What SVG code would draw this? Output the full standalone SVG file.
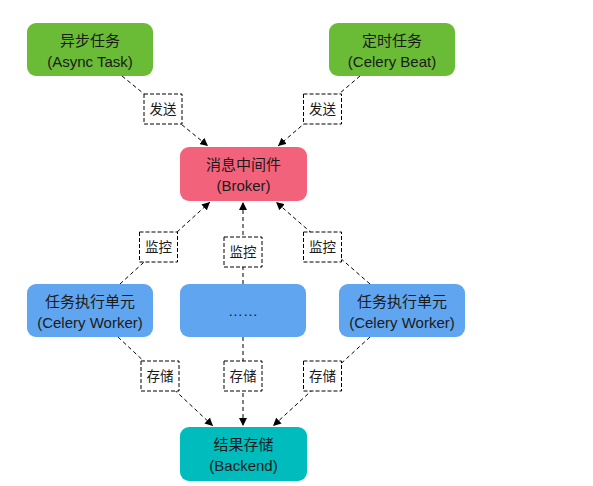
<svg xmlns="http://www.w3.org/2000/svg" width="593" height="486" viewBox="0 0 593 486">
<defs>
<marker id="arr" viewBox="0 0 10 10" refX="10" refY="5" markerWidth="8" markerHeight="8" markerUnits="userSpaceOnUse" orient="auto">
<path d="M0,0 L10,5 L0,10 z" fill="#000"/>
</marker>
</defs>
<style>
text{font-family:"Liberation Sans","Noto Sans CJK SC",sans-serif;fill:#1a1a1a;text-anchor:middle}
.t{font-size:15px}
.l{font-size:13.5px}
.edge{stroke:#000;stroke-width:1;stroke-dasharray:4,3;fill:none;marker-end:url(#arr)}
.lb{fill:#fff;stroke:#000;stroke-width:1;stroke-dasharray:4,2}
.green{fill:#6abb36}
.red{fill:#f2637b}
.blue{fill:#60a5f0}
.teal{fill:#00bcbd}
</style>
<rect width="593" height="486" fill="#fff"/>
<g id="connectors">
<line class="edge" x1="122" y1="76" x2="208" y2="146"/>
<line class="edge" x1="360" y1="76" x2="278" y2="146"/>
<line class="edge" x1="120" y1="284" x2="210" y2="202"/>
<line class="edge" x1="243" y1="284" x2="243" y2="202"/>
<line class="edge" x1="370" y1="284" x2="276" y2="202"/>
<line class="edge" x1="118" y1="337" x2="213" y2="426"/>
<line class="edge" x1="243" y1="337" x2="243" y2="426"/>
<line class="edge" x1="370" y1="337" x2="273" y2="426"/>
<g id="label-send1"><rect class="lb" x="144" y="94" width="38" height="30"/><text class="l" x="163" y="114">发送</text></g>
<g id="label-send2"><rect class="lb" x="303.5" y="94" width="38" height="30"/><text class="l" x="322.5" y="114">发送</text></g>
<g id="label-mon1"><rect class="lb" x="139.5" y="232" width="38" height="30"/><text class="l" x="158.5" y="252">监控</text></g>
<g id="label-mon2"><rect class="lb" x="224" y="237" width="38" height="30"/><text class="l" x="243" y="257">监控</text></g>
<g id="label-mon3"><rect class="lb" x="303.5" y="232" width="38" height="30"/><text class="l" x="322.5" y="252">监控</text></g>
<g id="label-store1"><rect class="lb" x="141" y="361" width="38" height="30"/><text class="l" x="160" y="381">存储</text></g>
<g id="label-store2"><rect class="lb" x="224" y="361" width="38" height="30"/><text class="l" x="243" y="381">存储</text></g>
<g id="label-store3"><rect class="lb" x="303.5" y="361" width="38" height="30"/><text class="l" x="322.5" y="381">存储</text></g>
</g>
<g id="async-task"><rect class="green" x="27" y="23" width="126" height="53" rx="9"/><text class="t" x="90" y="45.5">异步任务</text><text class="t" x="90" y="67">(Async Task)</text></g>
<g id="celery-beat"><rect class="green" x="329" y="23" width="126" height="53" rx="9"/><text class="t" x="392" y="45.5">定时任务</text><text class="t" x="392" y="67">(Celery Beat)</text></g>
<g id="broker"><rect class="red" x="180" y="147" width="127" height="54" rx="9"/><text class="t" x="243.5" y="169.5">消息中间件</text><text class="t" x="243.5" y="191">(Broker)</text></g>
<g id="worker1"><rect class="blue" x="27" y="284" width="126" height="53" rx="9"/><text class="t" x="90" y="306.5">任务执行单元</text><text class="t" x="90" y="328">(Celery Worker)</text></g>
<g id="worker-more"><rect class="blue" x="180" y="284" width="126" height="53" rx="9"/><text class="t" x="243" y="316">……</text></g>
<g id="worker2"><rect class="blue" x="339" y="284" width="126" height="53" rx="9"/><text class="t" x="402" y="306.5">任务执行单元</text><text class="t" x="402" y="328">(Celery Worker)</text></g>
<g id="backend"><rect class="teal" x="180" y="427" width="127" height="54" rx="9"/><text class="t" x="243.5" y="449.5">结果存储</text><text class="t" x="243.5" y="471">(Backend)</text></g>
</svg>
